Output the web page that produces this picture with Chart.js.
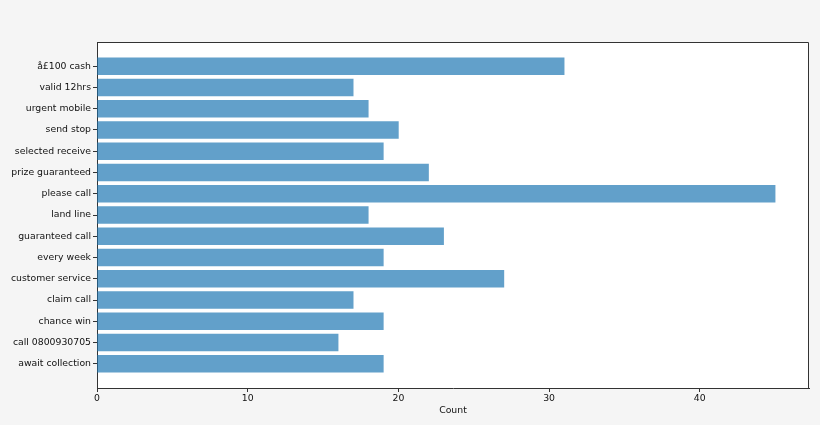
<!DOCTYPE html>
<html>
<head>
<meta charset="utf-8">
<script src="https://cdn.jsdelivr.net/npm/chart.js@4/dist/chart.umd.min.js"></script>
<style>
html,body{margin:0;padding:0;background:#f5f5f5;}
#wrap{width:820px;height:425px;position:relative;}
</style>
</head>
<body>
<div id="wrap"><canvas id="c" width="820" height="425"></canvas></div>
<script>
// categories listed bottom-to-top (as plotted)
const categories = ["await collection","call 0800930705","chance win","claim call","customer service","every week","guaranteed call","land line","please call","prize guaranteed","selected receive","send stop","urgent mobile","valid 12hrs","å£100 cash"];
const counts = [19,16,19,17,27,19,23,18,45,22,19,20,18,17,31];
const xTicks = [0,10,20,30,40];
const xLabel = "Count";

const frame = {
  id:'frame',
  afterDraw(chart){
    const {ctx, chartArea:a} = chart;
    ctx.save();
    ctx.strokeStyle = '#333';
    ctx.lineWidth = 1;
    ctx.beginPath();
    ctx.moveTo(a.left+0.5, a.top+0.5);
    ctx.lineTo(a.right-0.5, a.top+0.5);
    ctx.lineTo(a.right-0.5, a.bottom);
    ctx.stroke();
    ctx.restore();
  }
};
const white = {
  id:'white',
  beforeDraw(chart){
    const {ctx, chartArea:a} = chart;
    ctx.save();
    ctx.fillStyle = '#ffffff';
    ctx.fillRect(a.left, a.top, a.right-a.left, a.bottom-a.top);
    ctx.restore();
  }
};

const font = {family:'"DejaVu Sans", sans-serif', size:9.3};
new Chart(document.getElementById('c'), {
  type:'bar',
  data:{
    datasets:[{
      data: categories.map((c,i)=>({x:counts[i], y:i})),
      backgroundColor:'rgba(31,119,180,0.7)',
      borderWidth:0,
      barThickness:17
    }]
  },
  options:{
    indexAxis:'y',
    responsive:false,
    animation:false,
    layout:{padding:{top:42,right:11,left:0,bottom:0}},
    plugins:{legend:{display:false},tooltip:{enabled:false}},
    scales:{
      x:{
        type:'linear', min:0, max:47.25,
        afterBuildTicks(s){ s.ticks = xTicks.map(v=>({value:v})); },
        afterFit(s){ s.height = 37; },
        grid:{drawOnChartArea:false, drawTicks:true, tickLength:4,
              color:(c)=> (c.tick && xTicks.includes(c.tick.value)) ? '#333' : 'rgba(0,0,0,0)'},
        border:{display:true, color:'#333', width:1},
        ticks:{font, color:'#111', padding:1, maxRotation:0},
        title:{display:true, text:xLabel, font, color:'#111', padding:{top:0,bottom:9}}
      },
      y:{
        type:'linear', min:-1.14, max:15.14, offset:false,
        afterBuildTicks(s){ s.ticks = categories.map((c,i)=>({value:i})); },
        afterFit(s){ s.width = 97; },
        grid:{offset:false, drawOnChartArea:false, drawTicks:true, tickLength:4, color:'#333'},
        border:{display:true, color:'#333', width:1},
        ticks:{font, color:'#111', padding:2, callback:(v)=>categories[v]}
      }
    }
  },
  plugins:[white, frame]
});
</script>
</body>
</html>
